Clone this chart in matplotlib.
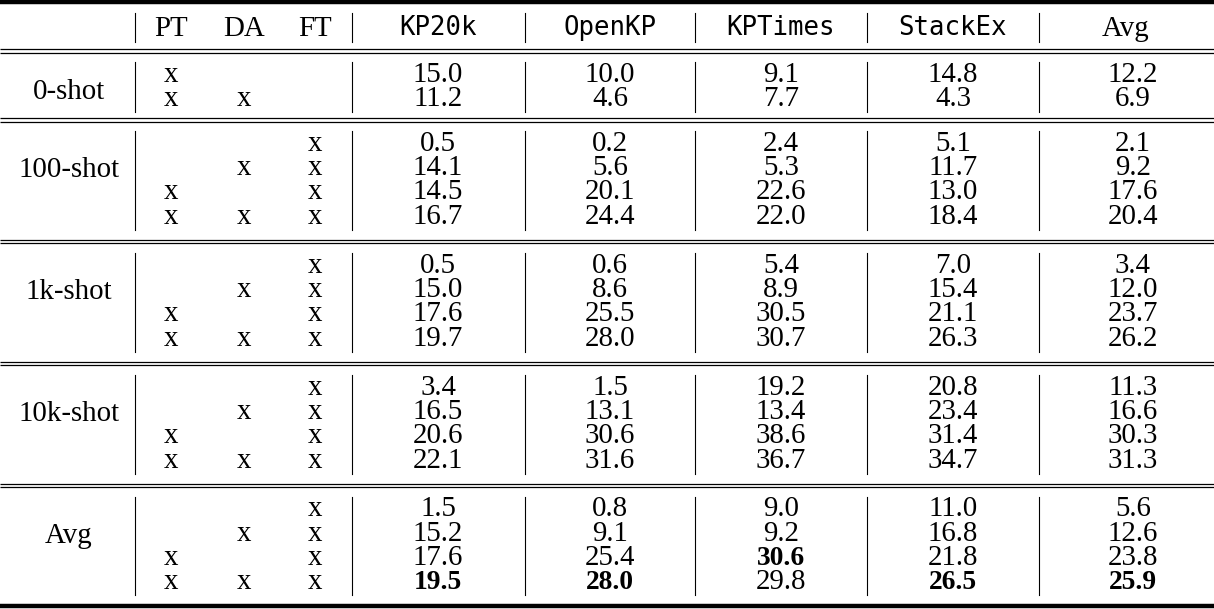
import matplotlib.pyplot as plt

groups = ["0-shot", "100-shot", "1k-shot", "10k-shot", "Avg"]
setting_names = ["PT", "DA", "FT"]
datasets = ["KP20k", "OpenKP", "KPTimes", "StackEx", "Avg"]

# which of PT / DA / FT is on, per row of each group
settings = [
    [(1, 0, 0), (1, 1, 0)],
    [(0, 0, 1), (0, 1, 1), (1, 0, 1), (1, 1, 1)],
    [(0, 0, 1), (0, 1, 1), (1, 0, 1), (1, 1, 1)],
    [(0, 0, 1), (0, 1, 1), (1, 0, 1), (1, 1, 1)],
    [(0, 0, 1), (0, 1, 1), (1, 0, 1), (1, 1, 1)],
]

kp20k = [15.0, 11.2, 0.5, 14.1, 14.5, 16.7, 0.5, 15.0, 17.6, 19.7, 3.4, 16.5, 20.6, 22.1, 1.5, 15.2, 17.6, 19.5]
openkp = [10.0, 4.6, 0.2, 5.6, 20.1, 24.4, 0.6, 8.6, 25.5, 28.0, 1.5, 13.1, 30.6, 31.6, 0.8, 9.1, 25.4, 28.0]
kptimes = [9.1, 7.7, 2.4, 5.3, 22.6, 22.0, 5.4, 8.9, 30.5, 30.7, 19.2, 13.4, 38.6, 36.7, 9.0, 9.2, 30.6, 29.8]
stackex = [14.8, 4.3, 5.1, 11.7, 13.0, 18.4, 7.0, 15.4, 21.1, 26.3, 20.8, 23.4, 31.4, 34.7, 11.0, 16.8, 21.8, 26.5]
avg = [12.2, 6.9, 2.1, 9.2, 17.6, 20.4, 3.4, 12.0, 23.7, 26.2, 11.3, 16.6, 30.3, 31.3, 5.6, 12.6, 23.8, 25.9]

# (row index, column index) of the best results
bold_cells = [(17, 0), (17, 1), (16, 2), (17, 3), (17, 4)]

columns = [kp20k, openkp, kptimes, stackex, avg]

SERIF = "Liberation Serif"
MONO = "DejaVu Sans Mono"
FS = 20.8
FS_BOLD = 19.8

fig = plt.figure(figsize=(12.14, 6.09), dpi=100)
ax = fig.add_axes([0, 0, 1, 1])
ax.set_xlim(0, 1214)
ax.set_ylim(609, 0)
ax.axis("off")

W = 1214
bars = [135, 352, 525, 695, 867, 1039]
label_x = 69
set_x = [171, 244, 315]
col_x = [438, 610, 781, 953, 1133]


def hline(y, lw):
    ax.plot([0, W], [y, y], color="black", lw=lw, solid_capstyle="butt")


def double(y):
    hline(y - 1.7, 0.9)
    hline(y + 1.7, 0.9)


def vbars(y0, y1):
    for bx in bars:
        ax.plot([bx, bx], [y0, y1], color="black", lw=0.8)


# header
hline(2, 3.2)
vbars(13, 42)
for name, x in zip(setting_names, set_x):
    ax.text(x, 36, name, ha="center", va="baseline", fontsize=FS, family=SERIF)
for name, x in zip(datasets[:-1], col_x[:-1]):
    ax.text(x, 35, name, ha="center", va="baseline", fontsize=18.5, family=MONO)
ax.text(col_x[-1] - 7, 36, datasets[-1], ha="center", va="baseline", fontsize=FS, family=SERIF)
double(51)

line_y = 51
row = 0
for g, name in enumerate(groups):
    rows = settings[g]
    base = [line_y + 31 + 24.3 * i for i in range(len(rows))]
    vbars(line_y + 11, base[-1] + 6)
    if len(rows) == 2:
        ly = (base[0] + base[1]) / 2 + 5
    else:
        ly = base[1] + 2
    ax.text(label_x, ly, name, ha="center", va="baseline", fontsize=FS, family=SERIF)
    for i, flags in enumerate(rows):
        for f, x in zip(flags, set_x):
            if f:
                ax.text(x, base[i], "x", ha="center", va="baseline", fontsize=FS, family=SERIF)
        for c, vals in enumerate(columns):
            if (row, c) in bold_cells:
                ax.text(col_x[c], base[i], f"{vals[row]:.1f}", ha="center", va="baseline",
                        fontsize=FS_BOLD, family=SERIF, fontweight="bold")
            else:
                ax.text(col_x[c], base[i], f"{vals[row]:.1f}", ha="center", va="baseline",
                        fontsize=FS, family=SERIF)
        row += 1
    line_y = base[-1] + 18 if len(rows) == 4 else base[-1] + 13.5
    if g < len(groups) - 1:
        double(line_y)

hline(606, 3.2)

fig.savefig("out.png", dpi=100)
